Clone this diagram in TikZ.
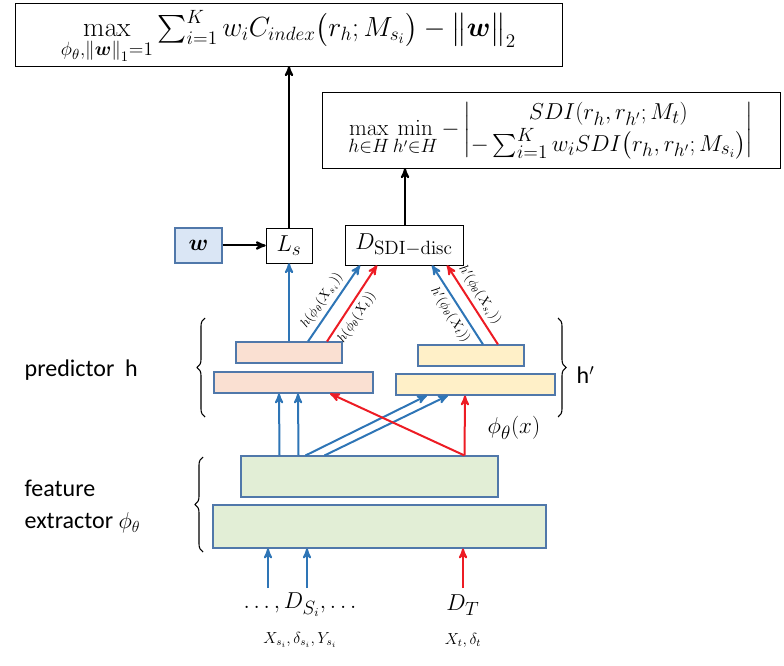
\documentclass[tikz,border=0pt]{standalone}
\usepackage{amsmath}
\usepackage[no-math]{fontspec}
\setmainfont{Carlito}
\usetikzlibrary{arrows,decorations.pathreplacing,calc,positioning,fit}
\newcommand{\pxu}{0.75pt}
\definecolor{lnblue}{RGB}{46,117,182}
\definecolor{lnred}{RGB}{237,28,36}
\definecolor{pinkfill}{RGB}{250,224,210}
\definecolor{yelfill}{RGB}{255,240,200}
\definecolor{grnfill}{RGB}{226,238,214}
\definecolor{wfill}{RGB}{218,230,245}
\definecolor{bdblue}{RGB}{80,120,170}
\tikzset{
    boxsty/.style={draw,rectangle,inner sep=0pt},
    pinksty/.style={boxsty,draw=bdblue,thick,fill=pinkfill},
    yelsty/.style={boxsty,draw=bdblue,thick,fill=yelfill},
    grnsty/.style={boxsty,draw=bdblue,thick,fill=grnfill},
    blarr/.style={->,>=stealth',line width=1.5pt,draw=lnblue},
    rdarr/.style={->,>=stealth',line width=1.5pt,draw=lnred},
    bkarr/.style={->,>=stealth',line width=1.5pt,draw=black},
    bracesty/.style={decorate,decoration={brace,amplitude=6pt},thick},
    lblsty/.style={font=\fontsize{18}{20}\selectfont},
    mathsty/.style={font=\fontsize{19}{21}\selectfont},
    fnsty/.style={font=\fontsize{10}{11}\selectfont,sloped,inner sep=3pt},
}
\begin{document}
\begin{tikzpicture}[x=0.75pt,y=-0.75pt]
\useasboundingbox (0,0) rectangle (784,666);
% objective boxes
\node[boxsty,fill=white,fit={(15,3) (562,66)}] (obj) {};
\node[font=\fontsize{21}{23}\selectfont,inner sep=0pt] at ([yshift=-2pt]obj.center)
  {$\displaystyle\max_{\phi_{\theta},\left\|\boldsymbol{w}\right\|_1=1}\textstyle\sum_{i=1}^{K} w_i C_{index}\big(r_h;M_{s_i}\big)-\big\|\boldsymbol{w}\big\|_2$};
\node[boxsty,fill=white,fit={(322,92) (780,168)}] (sdi) {};
\node[font=\fontsize{19}{21}\selectfont,inner sep=0pt] at (sdi.center)
  {$\displaystyle\max_{h\in H}\min_{h'\in H}-\left|\begin{matrix}SDI(r_h,r_{h'};M_t)\\ -\textstyle\sum_{i=1}^{K}w_iSDI\big(r_h,r_{h'};M_{s_i}\big)\end{matrix}\right|$};
% loss boxes
\node[boxsty,fill=wfill,draw=bdblue,thick,fit={(175,228) (222,263)}] (w) {};
\node[mathsty] at (w.center) {$\boldsymbol{w}$};
\node[boxsty,fill=white,fit={(266,228) (312,263)}] (Ls) {};
\node[mathsty] at (Ls.center) {$L_s$};
\node[boxsty,fill=white,fit={(345,225) (463,265)}] (D) {};
\node[mathsty] at (D.center) {$D_{\mathrm{SDI-disc}}$};
% predictors
\node[pinksty,fit={(236,342) (342,363)}] (hup) {};
\node[pinksty,fit={(214,372) (373,393)}] (hlo) {};
\node[yelsty,fit={(418,345) (524,366)}] (gup) {};
\node[yelsty,fit={(396,374) (555,395)}] (glo) {};
% feature extractor
\node[grnsty,fit={(241,456) (498,497)}] (fup) {};
\node[grnsty,fit={(213,505) (546,548)}] (flo) {};
% inputs
\node[mathsty] (ds) at (300,605) {$\ldots,D_{S_i},\ldots$};
\node[font=\fontsize{12}{13}\selectfont] at (300,640) {$X_{s_i},\delta_{s_i},Y_{s_i}$};
\node[mathsty] (dt) at (463,605) {$D_T$};
\node[font=\fontsize{12}{13}\selectfont] at (463,640) {$X_t,\delta_t$};
\coordinate (b1) at (268,588);
\coordinate (b2) at (307,588);
\coordinate (r1) at (463,588);
\draw[blarr] (b1) -- (b1 |- flo.south);
\draw[blarr] (b2) -- (b2 |- flo.south);
\draw[rdarr] (r1) -- (r1 |- flo.south);
% feature to predictors
\draw[blarr] ([xshift=-90*\pxu]fup.north) -- ([xshift=-14.5*\pxu]hlo.south);
\draw[blarr] ([xshift=-71*\pxu]fup.north) -- ([xshift=4.5*\pxu]hlo.south);
\draw[blarr] ([xshift=-64*\pxu]fup.north) -- ([xshift=-48.5*\pxu]glo.south);
\draw[blarr] ([xshift=-45*\pxu]fup.north) -- ([xshift=-27.5*\pxu]glo.south);
\draw[rdarr] ([xshift=95*\pxu]fup.north) -- ([xshift=36.5*\pxu]hlo.south);
\draw[rdarr] ([xshift=95*\pxu]fup.north) -- ([xshift=-10.5*\pxu]glo.south);
% predictors to losses
\draw[blarr] (hup.north) -- (Ls.south);
\draw[blarr] ([xshift=19*\pxu]hup.north) -- node[fnsty,above,pos=0.45] {$h(\phi_\theta(X_{s_i}))$} ([xshift=-44*\pxu]D.south);
\draw[rdarr] ([xshift=38*\pxu]hup.north) -- node[fnsty,below,pos=0.4] {$h(\phi_\theta(X_t))$} ([xshift=-27*\pxu]D.south);
\draw[blarr] ([xshift=12*\pxu]gup.north) -- node[fnsty,below,pos=0.45] {$h'(\phi_\theta(X_t))$} ([xshift=28*\pxu]D.south);
\draw[rdarr] ([xshift=27*\pxu]gup.north) -- node[fnsty,above,pos=0.55] {$h'(\phi_\theta(X_{s_i}))$} ([xshift=43*\pxu]D.south);
% losses to objectives
\draw[bkarr] (w.east) -- (Ls.west);
\draw[bkarr] (Ls.north) -- (Ls.north |- obj.south);
\draw[bkarr] ([xshift=1*\pxu]D.north) -- ([xshift=1*\pxu]D.north |- sdi.south);
% braces and labels
\draw[bracesty] (205,417) -- (205,318);
\draw[bracesty] (558,318) -- (558,417);
\draw[bracesty] (203,552) -- (203,457);
\node[lblsty,anchor=west] at (20,370) {predictor\ \ h};
\node[lblsty,anchor=west] at (572,375) {h$'$};
\node[lblsty,anchor=west] at (20,488) {feature};
\node[lblsty,anchor=west] at (20,523) {extractor $\phi_\theta$};
\node[mathsty,anchor=west] at (483,428) {$\phi_\theta(x)$};
\end{tikzpicture}
\end{document}
